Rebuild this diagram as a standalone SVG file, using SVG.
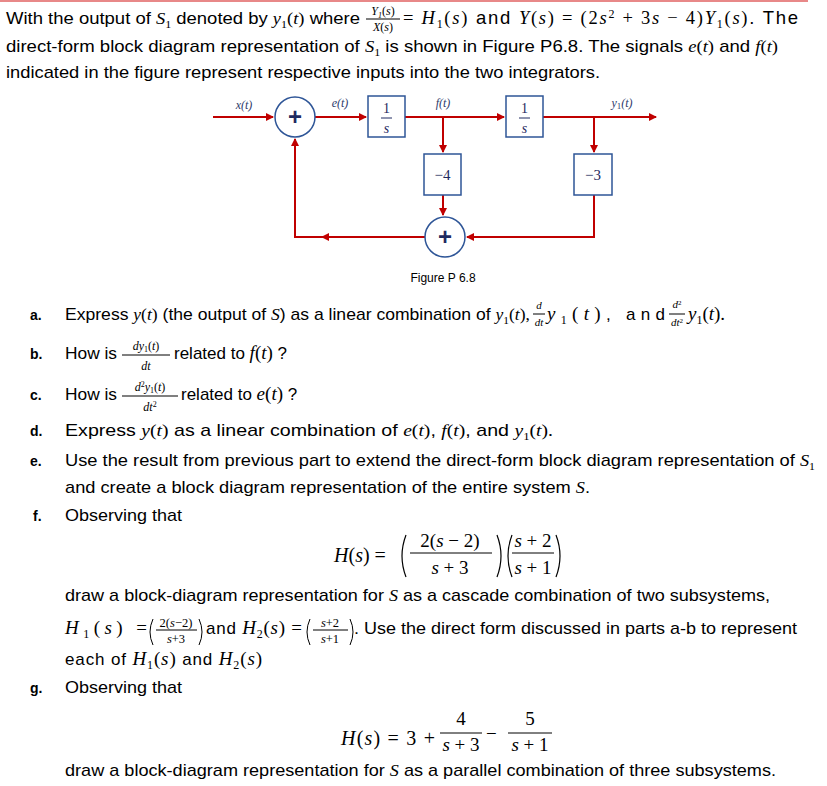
<svg xmlns="http://www.w3.org/2000/svg" width="827" height="786" viewBox="0 0 827 786" font-size="17">
<style>
text{font-family:"Liberation Sans",Arial,sans-serif;fill:#000}
.m{font-family:"Liberation Serif","Times New Roman",serif;font-style:italic}
.r{font-family:"Liberation Serif","Times New Roman",serif;font-style:normal}
.b{font-weight:bold}
.w{stroke:#c00000;stroke-width:2;fill:none}
.bx{fill:#fff;stroke:#2e5597;stroke-width:1.5}
.lab{font-family:"Liberation Serif",serif;font-style:italic;fill:#2e3a6b}
.bl{font-family:"Liberation Serif",serif;fill:#1f2a60;text-anchor:middle}
.pl{font-family:"Liberation Sans",sans-serif;font-weight:bold;fill:#1f2a60;text-anchor:middle}
.bar{stroke:#000;stroke-width:1}
</style>
<defs>
<marker id="ah" markerWidth="8" markerHeight="8" refX="7" refY="4" orient="auto" markerUnits="userSpaceOnUse" viewBox="0 0 8 8"><path d="M0,0L8,4L0,8z" fill="#c00000"/></marker>
</defs>
<line x1="0" y1="1" x2="808" y2="1" stroke="#e06060" stroke-width="1.5"/>

<text x="6" y="24" textLength="354" lengthAdjust="spacingAndGlyphs">With the output of <tspan class="m">S</tspan><tspan class="r" font-size="11" dy="4">1</tspan><tspan dy="-4"> denoted by </tspan><tspan class="m">y</tspan><tspan class="r" font-size="11" dy="4">1</tspan><tspan class="r" dy="-4">(</tspan><tspan class="m">t</tspan><tspan class="r">)</tspan>  where</text>
<text x="383" y="15" class="m" font-size="12" text-anchor="middle">Y<tspan font-size="8" dy="3">1</tspan><tspan dy="-3" class="r">(</tspan>s<tspan class="r">)</tspan></text>
<line x1="366" y1="19" x2="400" y2="19" class="bar"/>
<text x="383" y="31" class="m" font-size="12" text-anchor="middle">X<tspan class="r">(</tspan>s<tspan class="r">)</tspan></text>
<text x="403" y="24" font-size="18.5" textLength="395" lengthAdjust="spacing"><tspan class="r">= </tspan><tspan class="m">H</tspan><tspan class="r" font-size="12" dy="4">1</tspan><tspan class="r" dy="-4">(</tspan><tspan class="m">s</tspan><tspan class="r">)</tspan> and <tspan class="m">Y</tspan><tspan class="r">(</tspan><tspan class="m">s</tspan><tspan class="r">) = (2</tspan><tspan class="m">s</tspan><tspan class="r" font-size="12" dy="-6">2</tspan><tspan class="r" dy="6"> + 3</tspan><tspan class="m">s</tspan><tspan class="r"> − 4)</tspan><tspan class="m">Y</tspan><tspan class="r" font-size="12" dy="4">1</tspan><tspan class="r" dy="-4">(</tspan><tspan class="m">s</tspan><tspan class="r">)</tspan>. The</text>
<text x="6" y="52" textLength="772" lengthAdjust="spacingAndGlyphs">direct-form block diagram representation of <tspan class="m">S</tspan><tspan class="r" font-size="11" dy="4">1</tspan><tspan dy="-4"> is shown in Figure P6.8. The signals </tspan><tspan class="m">e</tspan><tspan class="r">(</tspan><tspan class="m">t</tspan><tspan class="r">)</tspan> and <tspan class="m">f</tspan><tspan class="r">(</tspan><tspan class="m">t</tspan><tspan class="r">)</tspan></text>
<text x="6" y="78" textLength="594" lengthAdjust="spacingAndGlyphs">indicated in the figure represent respective inputs into the two integrators.</text>

<g id="connectors">
<line x1="213" y1="117" x2="273" y2="117" class="w" marker-end="url(#ah)"/>
<line x1="315" y1="117" x2="366" y2="117" class="w" marker-end="url(#ah)"/>
<line x1="405" y1="117" x2="504" y2="117" class="w" marker-end="url(#ah)"/>
<line x1="543" y1="117" x2="656" y2="117" class="w" marker-end="url(#ah)"/>
<line x1="443" y1="117" x2="443" y2="152" class="w" marker-end="url(#ah)"/>
<line x1="594" y1="117" x2="594" y2="152" class="w" marker-end="url(#ah)"/>
<line x1="443" y1="195" x2="443" y2="215" class="w" marker-end="url(#ah)"/>
<polyline points="594,195 594,237 467,237" class="w" marker-end="url(#ah)"/>
<line x1="425" y1="237" x2="322" y2="237" class="w" marker-end="url(#ah)"/>
<polyline points="325,237 295,237 295,139" class="w" marker-end="url(#ah)"/>
</g>
<g id="labels">
<text x="244" y="109" class="lab" font-size="12" text-anchor="middle">x(t)</text>
<text x="340" y="107" class="lab" font-size="12" text-anchor="middle">e(t)</text>
<text x="443" y="107" class="lab" font-size="12" text-anchor="middle">f(t)</text>
<text x="622" y="107" class="lab" font-size="12" text-anchor="middle">y<tspan font-size="9" font-style="normal" dy="2">1</tspan><tspan dy="-2">(t)</tspan></text>
</g>
<g id="sum1"><circle cx="295" cy="117" r="20" class="bx"/><text x="295" y="125" class="pl" font-size="24">+</text></g>
<g id="int1"><rect x="368" y="96" width="37" height="41" class="bx"/><text x="386.5" y="113" class="bl" font-size="14">1</text><line x1="381" y1="118" x2="392" y2="118" stroke="#1f2a60"/><text x="386.5" y="133" class="bl" font-style="italic" font-size="14">s</text></g>
<g id="int2"><rect x="506" y="96" width="37" height="41" class="bx"/><text x="524.5" y="113" class="bl" font-size="14">1</text><line x1="519" y1="118" x2="530" y2="118" stroke="#1f2a60"/><text x="524.5" y="133" class="bl" font-style="italic" font-size="14">s</text></g>
<g id="gain4"><rect x="424" y="154" width="37" height="41" class="bx"/><text x="442.5" y="180" class="bl" font-size="15">−4</text></g>
<g id="gain3"><rect x="574" y="154" width="38" height="41" class="bx"/><text x="593" y="180" class="bl" font-size="15">−3</text></g>
<g id="sum2"><circle cx="445" cy="237" r="20" class="bx"/><text x="445" y="245" class="pl" font-size="24">+</text></g>
<text x="443" y="282" font-size="12" text-anchor="middle">Figure P 6.8</text>

<text x="30" y="320" class="b" font-size="14">a.</text>
<text x="65" y="320" textLength="465" lengthAdjust="spacingAndGlyphs">Express <tspan class="m">y</tspan><tspan class="r">(</tspan><tspan class="m">t</tspan><tspan class="r">)</tspan> (the output of <tspan class="m">S</tspan>) as a linear combination of <tspan class="m">y</tspan><tspan class="r" font-size="11" dy="4">1</tspan><tspan class="r" dy="-4">(</tspan><tspan class="m">t</tspan><tspan class="r">),</tspan></text>
<text x="539" y="309" class="m" font-size="11" text-anchor="middle">d</text><line x1="533" y1="314" x2="545" y2="314" class="bar"/><text x="539" y="326" class="m" font-size="11" text-anchor="middle">dt</text>
<text x="547" y="320" font-size="19" textLength="118" lengthAdjust="spacing"><tspan class="m">y</tspan><tspan class="r" font-size="12" dy="4">1</tspan><tspan class="r" dy="-4">(</tspan><tspan class="m">t</tspan><tspan class="r">)</tspan><tspan font-size="17">, and</tspan></text>
<text x="677" y="308" class="m" font-size="11" text-anchor="middle">d<tspan class="r" font-size="7" dy="-3">2</tspan></text><line x1="669" y1="314" x2="685" y2="314" class="bar"/><text x="677" y="326" class="m" font-size="11" text-anchor="middle">dt<tspan class="r" font-size="7" dy="-3">2</tspan></text>
<text x="688" y="320" font-size="19"><tspan class="m">y</tspan><tspan class="r" font-size="12" dy="4">1</tspan><tspan class="r" dy="-4">(</tspan><tspan class="m">t</tspan><tspan class="r">).</tspan></text>

<text x="30" y="359" class="b" font-size="14">b.</text>
<text x="65" y="359" textLength="52" lengthAdjust="spacingAndGlyphs">How is</text>
<text x="146" y="350" class="m" font-size="12" text-anchor="middle">dy<tspan class="r" font-size="8" dy="2">1</tspan><tspan class="r" dy="-2">(</tspan>t<tspan class="r">)</tspan></text>
<line x1="122" y1="355" x2="170" y2="355" class="bar"/>
<text x="146" y="370" class="m" font-size="12" text-anchor="middle">dt</text>
<text x="174" y="359">related to <tspan class="m" font-size="19">f</tspan><tspan class="r" font-size="19">(</tspan><tspan class="m" font-size="19">t</tspan><tspan class="r" font-size="19">)</tspan> ?</text>

<text x="30" y="400" class="b" font-size="14">c.</text>
<text x="65" y="400" textLength="52" lengthAdjust="spacingAndGlyphs">How is</text>
<text x="150" y="391" class="m" font-size="12" text-anchor="middle">d<tspan class="r" font-size="8" dy="-4">2</tspan><tspan dy="4">y</tspan><tspan class="r" font-size="8" dy="2">1</tspan><tspan class="r" dy="-2">(</tspan>t<tspan class="r">)</tspan></text>
<line x1="122" y1="396" x2="178" y2="396" class="bar"/>
<text x="150" y="411" class="m" font-size="12" text-anchor="middle">dt<tspan class="r" font-size="8" dy="-4">2</tspan></text>
<text x="181" y="400">related to <tspan class="m" font-size="19">e</tspan><tspan class="r" font-size="19">(</tspan><tspan class="m" font-size="19">t</tspan><tspan class="r" font-size="19">)</tspan> ?</text>

<text x="30" y="436" class="b" font-size="14">d.</text>
<text x="65" y="436" textLength="488" lengthAdjust="spacingAndGlyphs">Express <tspan class="m">y</tspan><tspan class="r">(</tspan><tspan class="m">t</tspan><tspan class="r">)</tspan> as a linear combination of <tspan class="m">e</tspan><tspan class="r">(</tspan><tspan class="m">t</tspan><tspan class="r">)</tspan>, <tspan class="m">f</tspan><tspan class="r">(</tspan><tspan class="m">t</tspan><tspan class="r">)</tspan>, and <tspan class="m">y</tspan><tspan class="r" font-size="11" dy="4">1</tspan><tspan class="r" dy="-4">(</tspan><tspan class="m">t</tspan><tspan class="r">).</tspan></text>

<text x="30" y="466" class="b" font-size="14">e.</text>
<text x="65" y="466" textLength="750" lengthAdjust="spacingAndGlyphs">Use the result from previous part to extend the direct-form block diagram representation of <tspan class="m">S</tspan><tspan class="r" font-size="11" dy="4">1</tspan></text>
<text x="65" y="493" textLength="525" lengthAdjust="spacingAndGlyphs">and create a block diagram representation of the entire system <tspan class="m">S</tspan>.</text>

<text x="33" y="521" class="b" font-size="14">f.</text>
<text x="65" y="521" textLength="117" lengthAdjust="spacingAndGlyphs">Observing that</text>
<text x="334" y="562" font-size="20"><tspan class="m">H</tspan><tspan class="r">(</tspan><tspan class="m">s</tspan><tspan class="r">) =</tspan></text>
<path d="M406,535 Q398,556 406,577 M497,535 Q505,556 497,577 M512,535 Q504,556 512,577 M556,535 Q564,556 556,577" stroke="#000" fill="none" stroke-width="1.2"/>
<text x="450" y="547" class="r" font-size="19" text-anchor="middle">2(<tspan class="m">s</tspan> − 2)</text>
<line x1="410" y1="553" x2="492" y2="553" class="bar"/>
<text x="450" y="574" class="r" font-size="19" text-anchor="middle"><tspan class="m">s</tspan> + 3</text>
<text x="533" y="547" class="r" font-size="19" text-anchor="middle"><tspan class="m">s</tspan> + 2</text>
<line x1="512" y1="553" x2="554" y2="553" class="bar"/>
<text x="533" y="574" class="r" font-size="19" text-anchor="middle"><tspan class="m">s</tspan> + 1</text>

<text x="65" y="601" textLength="705" lengthAdjust="spacingAndGlyphs">draw a block-diagram representation for <tspan class="m">S</tspan> as a cascade combination of two subsystems,</text>
<text x="65" y="634" font-size="19" textLength="82" lengthAdjust="spacing"><tspan class="m">H</tspan><tspan class="r" font-size="12" dy="4">1</tspan><tspan class="r" dy="-4">(</tspan><tspan class="m">s</tspan><tspan class="r">) =</tspan></text>
<path d="M153,619 Q147,632 153,645 M199,619 Q205,632 199,645 M310,619 Q304,632 310,645 M350,619 Q356,632 350,645" stroke="#000" fill="none" stroke-width="1"/>
<text x="176" y="627" class="r" font-size="12.5" text-anchor="middle">2(<tspan class="m">s</tspan>−2)</text>
<line x1="156" y1="630" x2="197" y2="630" class="bar"/>
<text x="176" y="643" class="r" font-size="12.5" text-anchor="middle"><tspan class="m">s</tspan>+3</text>
<text x="206" y="634" textLength="96" lengthAdjust="spacing">and <tspan class="m" font-size="19">H</tspan><tspan class="r" font-size="12" dy="4">2</tspan><tspan class="r" font-size="19" dy="-4">(</tspan><tspan class="m" font-size="19">s</tspan><tspan class="r" font-size="19">) =</tspan></text>
<text x="330" y="627" class="r" font-size="12.5" text-anchor="middle"><tspan class="m">s</tspan>+2</text>
<line x1="313" y1="630" x2="348" y2="630" class="bar"/>
<text x="330" y="643" class="r" font-size="12.5" text-anchor="middle"><tspan class="m">s</tspan>+1</text>
<text x="354" y="634" textLength="443" lengthAdjust="spacingAndGlyphs">. Use the direct form discussed in parts a-b to represent</text>
<text x="65" y="665" textLength="197" lengthAdjust="spacing">each of <tspan class="m" font-size="19">H</tspan><tspan class="r" font-size="12" dy="4">1</tspan><tspan class="r" font-size="19" dy="-4">(</tspan><tspan class="m" font-size="19">s</tspan><tspan class="r" font-size="19">)</tspan> and <tspan class="m" font-size="19">H</tspan><tspan class="r" font-size="12" dy="4">2</tspan><tspan class="r" font-size="19" dy="-4">(</tspan><tspan class="m" font-size="19">s</tspan><tspan class="r" font-size="19">)</tspan></text>

<text x="30" y="693" class="b" font-size="14">g.</text>
<text x="65" y="693" textLength="117" lengthAdjust="spacingAndGlyphs">Observing that</text>
<text x="341" y="745" font-size="20" textLength="94" lengthAdjust="spacing"><tspan class="m">H</tspan><tspan class="r">(</tspan><tspan class="m">s</tspan><tspan class="r">) = 3 +</tspan></text>
<text x="461" y="725" class="r" font-size="19" text-anchor="middle">4</text>
<line x1="440" y1="733" x2="482" y2="733" class="bar"/>
<text x="461" y="751" class="r" font-size="19" text-anchor="middle"><tspan class="m">s</tspan> + 3</text>
<text x="486" y="740" class="r" font-size="19">−</text>
<text x="530" y="725" class="r" font-size="19" text-anchor="middle">5</text>
<line x1="508" y1="733" x2="552" y2="733" class="bar"/>
<text x="530" y="751" class="r" font-size="19" text-anchor="middle"><tspan class="m">s</tspan> + 1</text>
<text x="65" y="776" textLength="711" lengthAdjust="spacingAndGlyphs">draw a block-diagram representation for <tspan class="m">S</tspan> as a parallel combination of three subsystems.</text>
</svg>
